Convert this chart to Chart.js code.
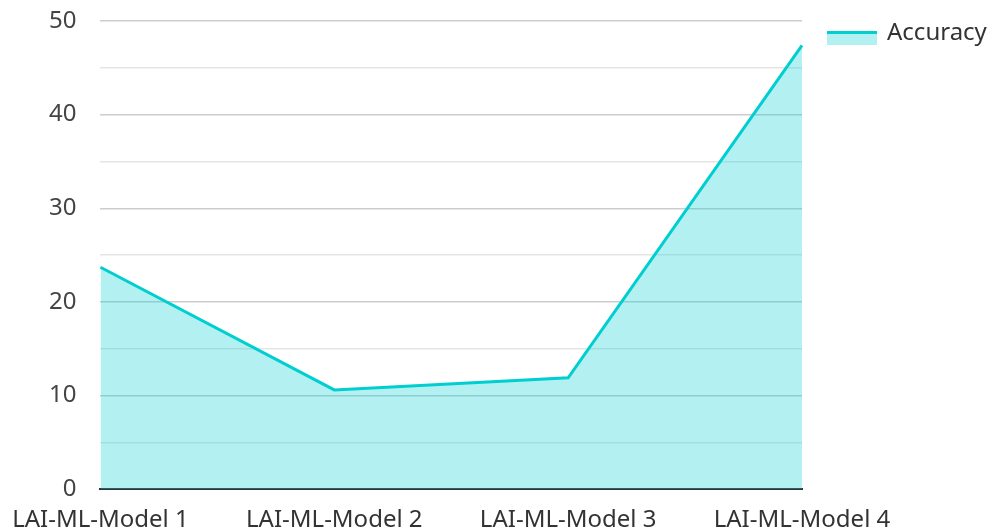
<!doctype html>
<html lang="en">
  <head>
    <meta charset="UTF-8" />
    <title>Accuracy</title>
    <script src="https://cdn.jsdelivr.net/npm/chart.js"></script>
    <style>
      body,
      html {
        margin: 0;
        padding: 0;
        background: #fff;
      }
      #wrap {
        width: 992px;
        height: 529px;
      }
    </style>
  </head>
  <body>
    <div id="wrap"><canvas id="chart"></canvas></div>
    <script>
      // data
      const models = ["LAI-ML-Model 1", "LAI-ML-Model 2", "LAI-ML-Model 3", "LAI-ML-Model 4"];
      const accuracy = [23.7, 10.6, 11.9, 47.4];
      const yTicks = [0, 10, 20, 30, 40, 50];

      const lineColor = "rgb(0, 206, 209)";
      const fillColor = "rgba(0, 206, 209, 0.3)";

      Chart.defaults.font.family = "'Noto Sans', sans-serif";
      Chart.defaults.font.size = 24;

      // legend on the right: line on top of a fill swatch, then the label
      const sideLegend = {
        id: "sideLegend",
        afterDraw(chart) {
          const ctx = chart.ctx;
          const x = chart.chartArea.right + 25;
          const y = 31;
          chart.data.datasets.forEach((ds, i) => {
            const top = y + i * 30;
            ctx.save();
            ctx.fillStyle = ds.backgroundColor;
            ctx.fillRect(x, top, 50, 14);
            ctx.fillStyle = ds.borderColor;
            ctx.fillRect(x, top, 50, 3);
            ctx.fillStyle = "#333";
            ctx.font = "24px 'Noto Sans', sans-serif";
            ctx.textBaseline = "middle";
            ctx.fillText(ds.label, x + 60, top + 2);
            ctx.restore();
          });
        },
      };

      new Chart(document.getElementById("chart"), {
        type: "line",
        data: {
          labels: models,
          datasets: [
            {
              label: "Accuracy",
              data: accuracy,
              borderColor: lineColor,
              backgroundColor: fillColor,
              borderWidth: 3,
              fill: "origin",
              pointRadius: 0,
              tension: 0,
            },
          ],
        },
        options: {
          responsive: true,
          maintainAspectRatio: false,
          animation: false,
          layout: {
            autoPadding: false,
            padding: { top: 21, left: 25, right: 190, bottom: -23 },
          },
          plugins: {
            tooltip: { enabled: false },
            legend: { display: false },
          },
          scales: {
            x: {
              offset: false,
              grid: { display: false, drawTicks: false },
              border: { display: true, color: "#333", width: 2 },
              ticks: { color: "#333", padding: 17, maxRotation: 0, autoSkip: false },
              afterFit: (scale) => {
                scale.paddingLeft = 0;
                scale.paddingRight = 0;
              },
            },
            y: {
              min: 0,
              max: 50,
              border: { display: false },
              grid: {
                drawTicks: false,
                color: (ctx) => {
                  const v = ctx.tick.value;
                  if (v === 0) return "#333";
                  return yTicks.includes(v) ? "rgba(0,0,0,0.2)" : "rgba(0,0,0,0.1)";
                },
                lineWidth: (ctx) => (ctx.tick.value === 0 ? 2 : 1.5),
              },
              ticks: {
                stepSize: 5,
                color: "#444",
                padding: 24,
                callback: (v) => (yTicks.includes(v) ? v : ""),
              },
              afterFit: (scale) => {
                scale.paddingTop = 0;
                scale.paddingBottom = 0;
              },
            },
          },
        },
        plugins: [sideLegend],
      });
    </script>
  </body>
</html>
